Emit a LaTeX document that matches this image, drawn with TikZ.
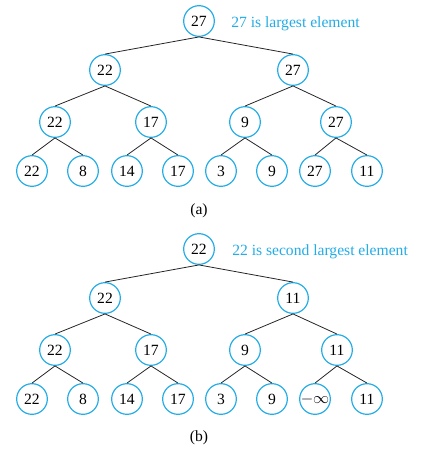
\documentclass[tikz,border=0pt]{standalone}
\usepackage{fontspec}
\setmainfont{Liberation Serif}
\usepackage{xcolor}
\usetikzlibrary{positioning}
\definecolor{heapblue}{RGB}{35,172,230}

\begin{document}
\begin{tikzpicture}[
  x=0.75pt, y=-0.75pt,
  font=\fontsize{11.7}{14}\selectfont,
  key/.style={circle, draw=heapblue, line width=0.9pt, minimum size=23pt, inner sep=0pt},
  note/.style={text=heapblue, anchor=base west, inner sep=0pt},
  edge/.style={line width=0.6pt, black!85}
]
\useasboundingbox (0,0) rectangle (429,455);

% (a) tournament after the first pass
\node[key] (a1) at (199,21) {27};
\node[note] (anote) at (231,27) {27 is largest element};
\node[key] (a2) at (105,70) {22};
\node[key] (a3) at (293,70) {27};
\node[key] (a4) at (55,122) {22};
\node[key] (a5) at (151,122) {17};
\node[key] (a6) at (245,122) {9};
\node[key] (a7) at (336,122) {27};
\node[key] (a8) at (32,171) {22};
\node[key] (a9) at (83,171) {8};
\node[key] (a10) at (127,171) {14};
\node[key] (a11) at (178,171) {17};
\node[key] (a12) at (221,171) {3};
\node[key] (a13) at (272,171) {9};
\node[key] (a14) at (315,171) {27};
\node[key] (a15) at (367,171) {11};
\node (acap) at (199,211) {(a)};

\draw[edge] (a1.south) -- (a2.north) (a1.south) -- (a3.north);
\draw[edge] (a2.south) -- (a4.north) (a2.south) -- (a5.north);
\draw[edge] (a3.south) -- (a6.north) (a3.south) -- (a7.north);
\draw[edge] (a4.south) -- (a8.north) (a4.south) -- (a9.north);
\draw[edge] (a5.south) -- (a10.north) (a5.south) -- (a11.north);
\draw[edge] (a6.south) -- (a12.north) (a6.south) -- (a13.north);
\draw[edge] (a7.south) -- (a14.north) (a7.south) -- (a15.north);

% (b) replay with the winner removed
\node[key] (b1) at (199,249) {22};
\node[note] (bnote) at (232,255) {22 is second largest element};
\node[key] (b2) at (105,298) {22};
\node[key] (b3) at (293,298) {11};
\node[key] (b4) at (55,350) {22};
\node[key] (b5) at (151,350) {17};
\node[key] (b6) at (245,350) {9};
\node[key] (b7) at (337,350) {11};
\node[key] (b8) at (32,399) {22};
\node[key] (b9) at (83,399) {8};
\node[key] (b10) at (127,399) {14};
\node[key] (b11) at (178,399) {17};
\node[key] (b12) at (221,399) {3};
\node[key] (b13) at (272,399) {9};
\node[key] (b14) at (315,399) {$-\infty$};
\node[key] (b15) at (367,399) {11};
\node (bcap) at (199,438) {(b)};

\draw[edge] (b1.south) -- (b2.north) (b1.south) -- (b3.north);
\draw[edge] (b2.south) -- (b4.north) (b2.south) -- (b5.north);
\draw[edge] (b3.south) -- (b6.north) (b3.south) -- (b7.north);
\draw[edge] (b4.south) -- (b8.north) (b4.south) -- (b9.north);
\draw[edge] (b5.south) -- (b10.north) (b5.south) -- (b11.north);
\draw[edge] (b6.south) -- (b12.north) (b6.south) -- (b13.north);
\draw[edge] (b7.south) -- (b14.north) (b7.south) -- (b15.north);
\end{tikzpicture}
\end{document}
